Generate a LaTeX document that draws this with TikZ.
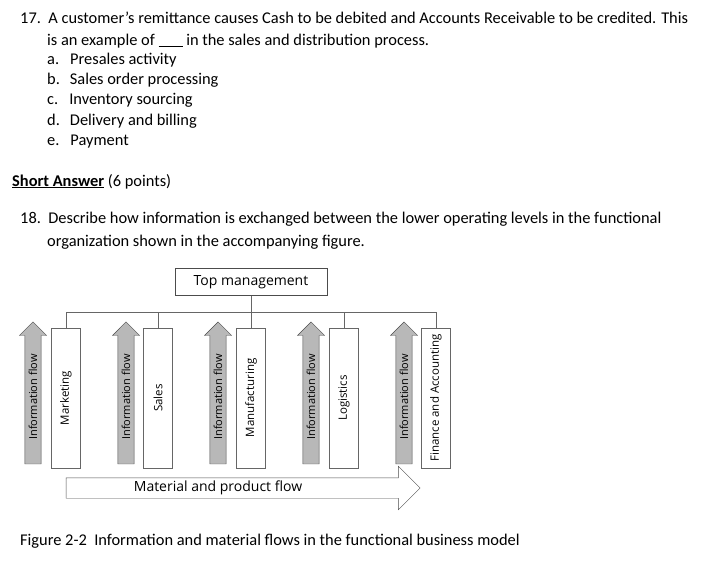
\documentclass[tikz,border=0pt]{standalone}
\usepackage{fontspec}
\setmainfont{Carlito}
\newfontfamily\diagfont{Open Sans}
\usetikzlibrary{shapes, arrows, positioning, calc}

\begin{document}
\begin{tikzpicture} [
    x=1pt, y=-1pt,
    line/.style={anchor=base west, inner sep=0pt, font=\fontsize{16.4}{19}\selectfont},
    dept/.style={rectangle, draw=black!60, minimum width=140pt, minimum height=29pt, rotate=90, font=\diagfont\fontsize{11.5}{13}\selectfont, inner sep=0pt},
    infoarrow/.style={single arrow, draw=black!70, fill=black!28, rotate=90, minimum height=142pt, minimum width=27pt, single arrow head extend=5pt, single arrow head indent=0pt, inner sep=0pt, inner ysep=3pt, font=\diagfont\fontsize{11}{12}\selectfont},
    tree/.style={draw=black!60, thick}
]
\useasboundingbox (0,0) rectangle (712,563);

% Question 17
\node[line] (q17) at (20,23) {17.\ \ A customer's remittance causes Cash to be debited and Accounts Receivable to be credited. This};
\node[line] (q17b) at (47,45) {is an example of \underline{\hspace{24pt}} in the sales and distribution process.};
\node[line] (qa) at (47,64) {a.\hspace{11pt}Presales activity};
\node[line] (qb) at (47,84) {b.\hspace{10pt}Sales order processing};
\node[line] (qc) at (47,104) {c.\hspace{11pt}Inventory sourcing};
\node[line] (qd) at (47,125) {d.\hspace{10pt}Delivery and billing};
\node[line] (qe) at (47,145) {e.\hspace{11pt}Payment};

\node[line] (short) at (12,186) {\underline{\textbf{Short Answer}} (6 points)};

% Question 18
\node[line] (q18) at (20,223) {18.\ \ Describe how information is exchanged between the lower operating levels in the functional};
\node[line] (q18b) at (47,246) {organization shown in the accompanying figure.};

% Diagram
\node[draw=black!70, minimum width=152pt, minimum height=27pt, font=\diagfont\fontsize{14}{16}\selectfont] (top) at (251,282) {Top management};

\node[dept] (mkt) at (66,398) {Marketing};
\node[dept] (sales) at (158,398) {Sales};
\node[dept] (manu) at (251,398) {Manufacturing};
\node[dept] (log) at (344,398) {Logistics};
\node[dept] (fin) at (436,398) {Finance and Accounting};

\node[infoarrow] (info1) at (33,397) {Information flow};
\node[infoarrow] (info2) at (126,397) {Information flow};
\node[infoarrow] (info3) at (218,397) {Information flow};
\node[infoarrow] (info4) at (311,397) {Information flow};
\node[infoarrow] (info5) at (404,397) {Information flow};

\node[single arrow, draw=black!70, minimum height=354pt, minimum width=43pt, single arrow head extend=11.5pt, single arrow head indent=0pt, inner sep=0pt, inner ysep=10pt] (matflow) at (238,488) {};
\node[font=\diagfont\fontsize{14}{16}\selectfont] (matlabel) at (218,488) {Material and product flow};

% Tree
\coordinate (bus) at (251,312);
\draw[tree] (top.south) -- (bus);
\draw[tree] (mkt.east |- bus) -- (fin.east |- bus);
\draw[tree] (mkt.east |- bus) -- (mkt.east);
\draw[tree] (sales.east |- bus) -- (sales.east);
\draw[tree] (manu.east |- bus) -- (manu.east);
\draw[tree] (log.east |- bus) -- (log.east);
\draw[tree] (fin.east |- bus) -- (fin.east);

% Caption
\node[line] (caption) at (20,545) {Figure 2-2\ \ Information and material flows in the functional business model};
\end{tikzpicture}
\end{document}
